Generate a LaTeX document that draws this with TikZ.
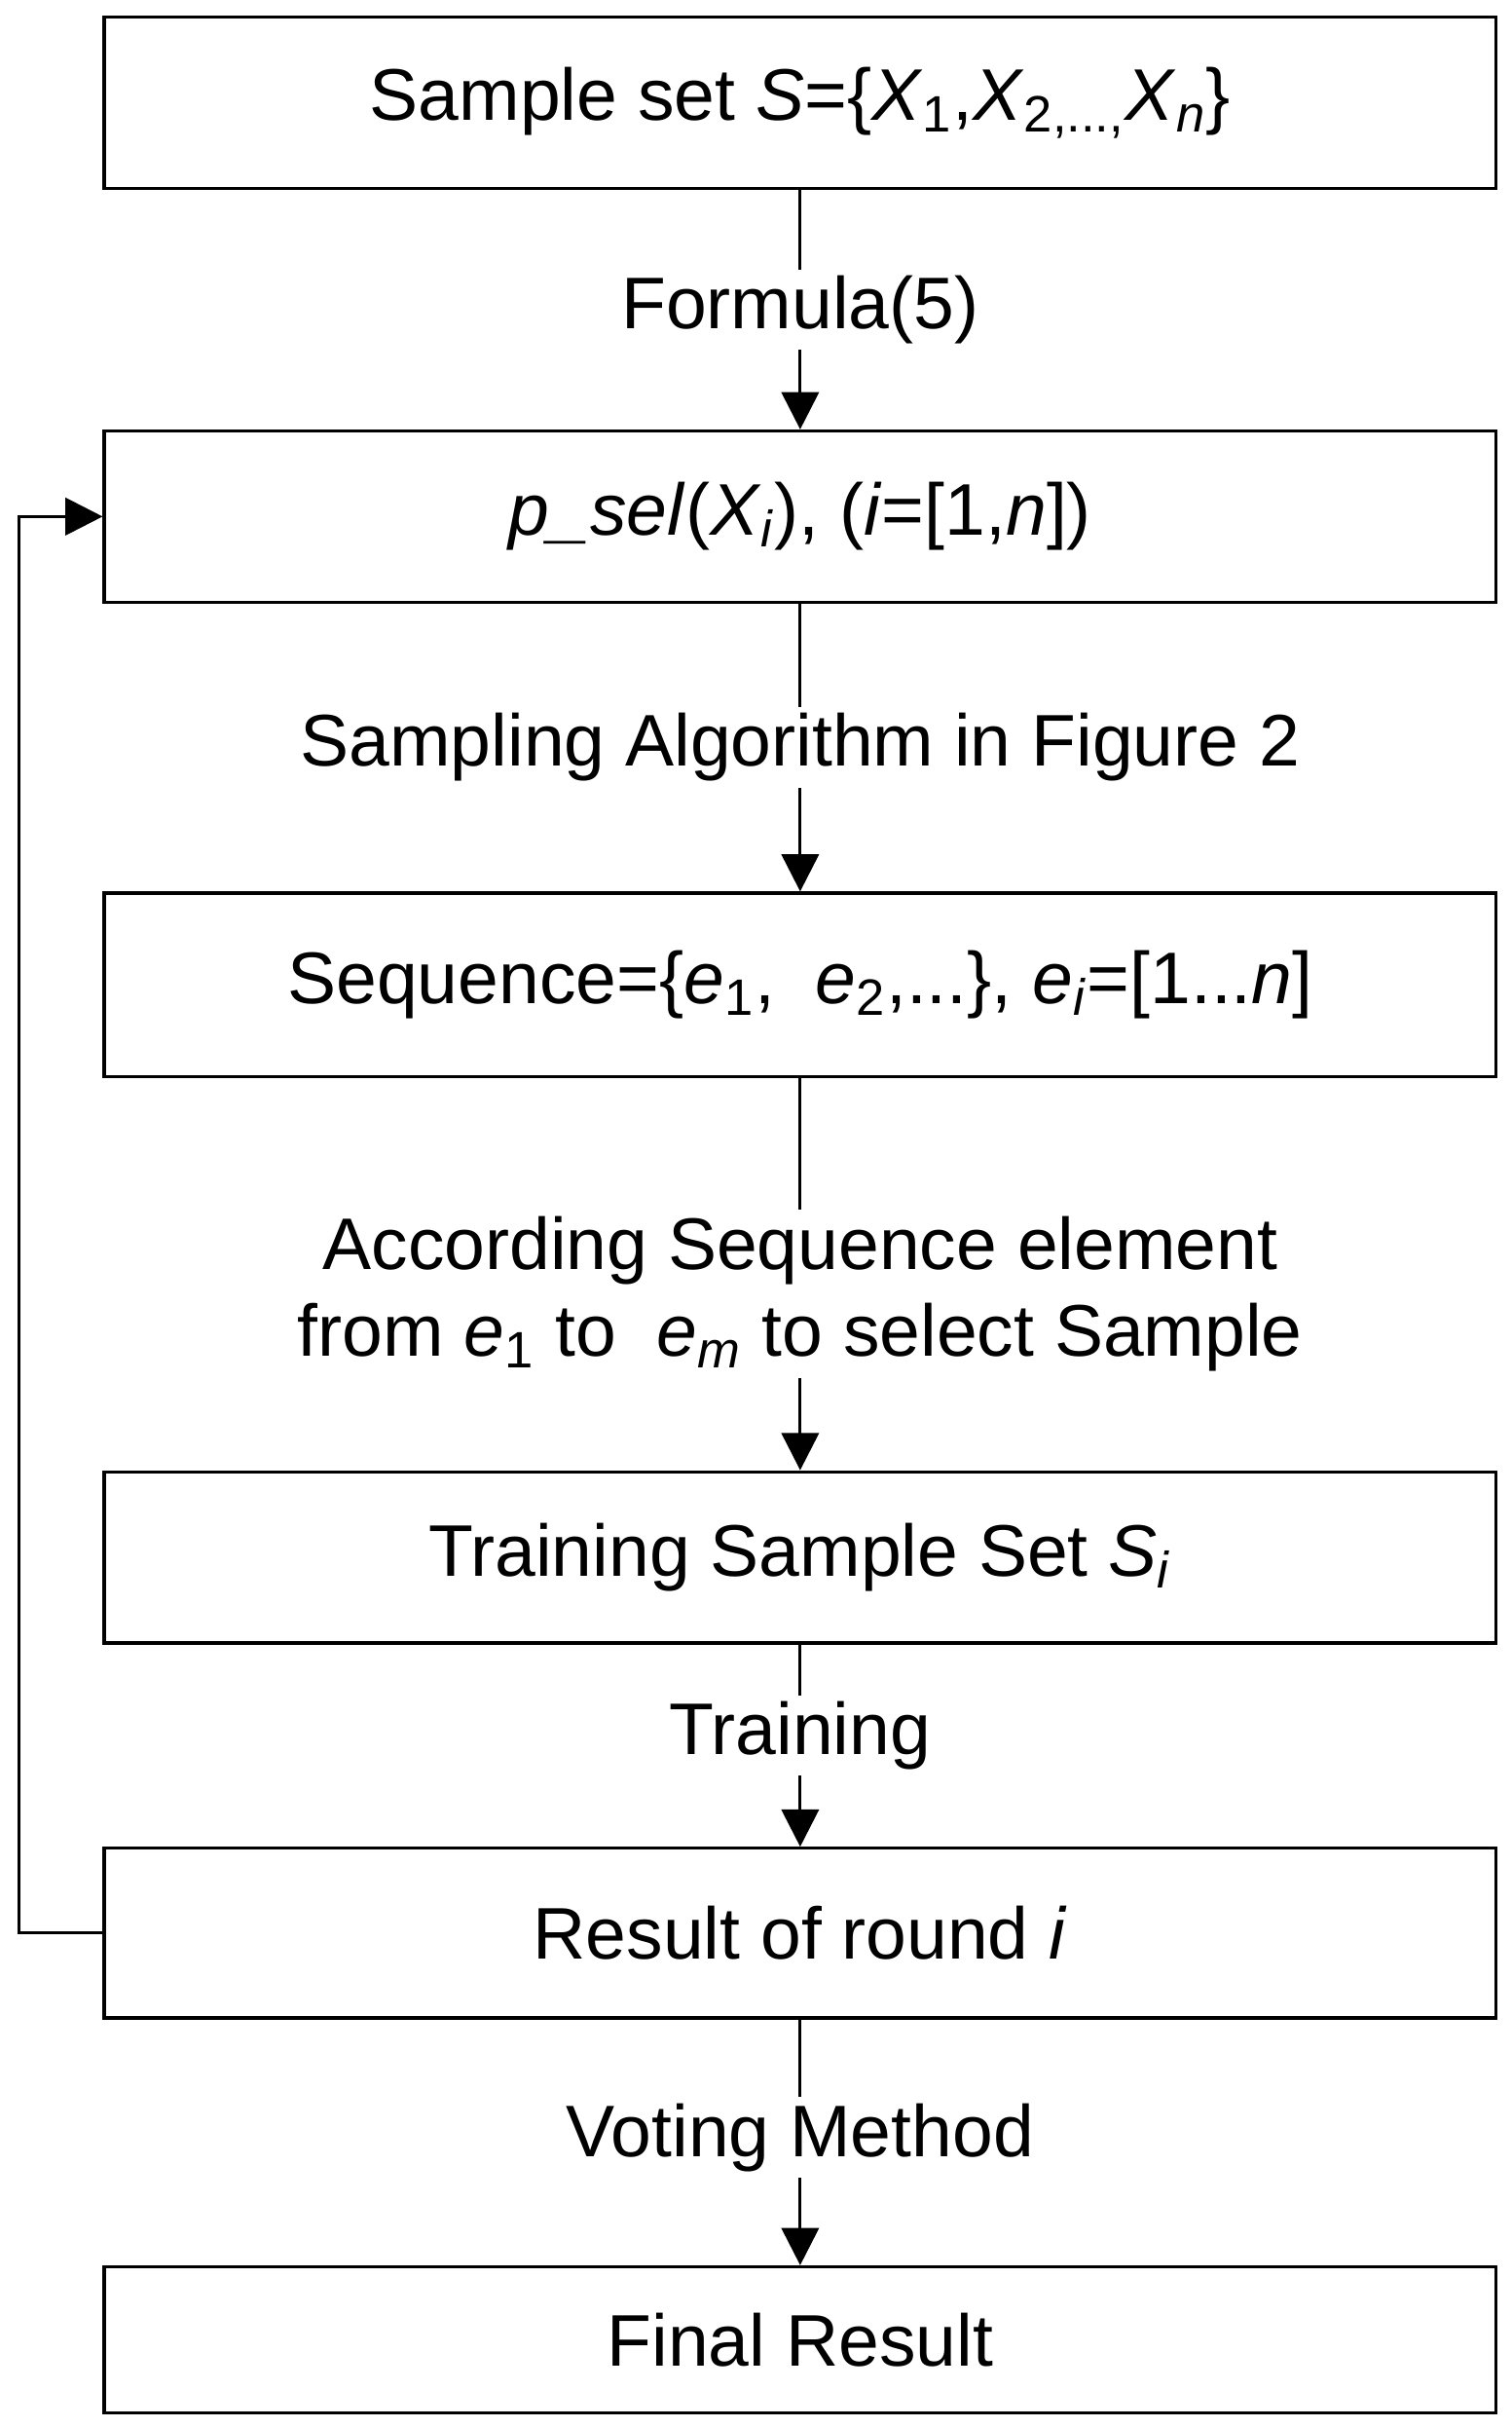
\documentclass[tikz,border=0pt]{standalone}
\usepackage{fontspec}
\setmainfont{Liberation Sans}
\usetikzlibrary{arrows.meta}
\newcommand\ssub[1]{\textsubscript{#1}}
\begin{document}
\begin{tikzpicture}[x=0.5pt,y=-0.5pt,
  box/.style={draw,line width=1pt,minimum width=447.5pt,inner sep=0pt},
  lbl/.style={fill=white,inner sep=2pt,align=center,font=\fontsize{23.5}{28}\selectfont},
  arr/.style={line width=1pt,-{Triangle[length=12pt,width=12pt]}},
  every node/.append style={font=\fontsize{23.5}{28}\selectfont}]
\useasboundingbox (0,0) rectangle (972,1560);
\node[box,minimum height=55pt] (b1) at (514.5,66) {Sample set \textit{S}=\{\textit{X}\ssub{1},\textit{X}\ssub{2,...,}\textit{X}\ssub{\textit{n}}\}};
\node[box,minimum height=55pt] (b2) at (514.5,332) {\textit{p\_sel}(\textit{X}\ssub{\textit{i}}), (\textit{i}=[1,\textit{n}])};
\node[box,minimum height=59pt] (b3) at (514.5,633) {Sequence=\{\textit{e}\ssub{1},\ \ \textit{e}\ssub{2},...\}, \textit{e}\ssub{\textit{i}}=[1...\textit{n}]};
\node[box,minimum height=55pt] (b4) at (514.5,1001) {Training Sample Set \textit{S}\ssub{\textit{i}}};
\node[box,minimum height=54.5pt] (b5) at (514.5,1242.5) {Result of round \textit{i}};
\node[box,minimum height=47pt] (b6) at (514.5,1504) {Final Result};
\draw[arr] (b1) -- (b2) node[lbl,pos=0.5] {Formula(5)};
\draw[arr] (b2) -- (b3) node[lbl,pos=0.5] {Sampling Algorithm in Figure 2};
\draw[arr] (b3) -- (b4) node[lbl,pos=0.55] {According Sequence element\\from \textit{e}\ssub{1} to \ \textit{e}\ssub{\textit{m}} to select Sample};
\draw[arr] (b4) -- (b5) node[lbl,pos=0.45] {Training};
\draw[arr] (b5) -- (b6) node[lbl,pos=0.48] {Voting Method};
\coordinate (c1) at (12,1242.5);
\coordinate (c2) at (12,332);
\draw[arr] (b5.west) -- (c1) -- (c2) -- (b2.west);
\end{tikzpicture}
\end{document}
